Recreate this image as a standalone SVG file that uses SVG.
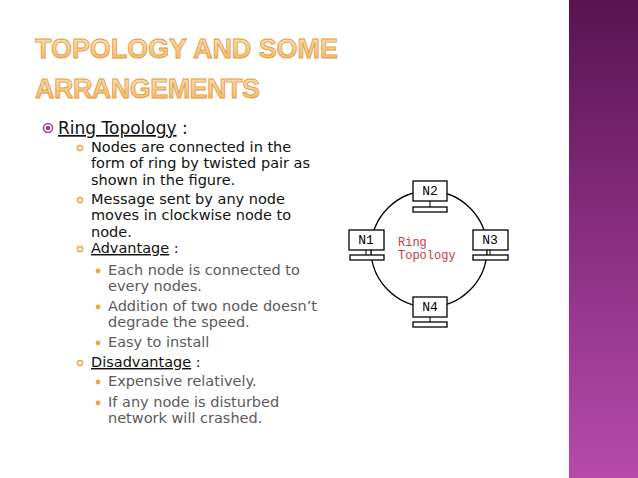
<svg xmlns="http://www.w3.org/2000/svg" width="638" height="478" viewBox="0 0 638 478">
<defs>
<linearGradient id="side" x1="0" y1="0" x2="0" y2="1"><stop offset="0" stop-color="#581450"/><stop offset="0.5" stop-color="#8a2e82"/><stop offset="1" stop-color="#b64aac"/></linearGradient>
<linearGradient id="tt" x1="0" y1="0" x2="0" y2="1"><stop offset="0" stop-color="#fbe3c0"/><stop offset="1" stop-color="#f2b25a"/></linearGradient>
<style>
.t{font-family:"Liberation Sans",Arial,sans-serif;font-size:27px;font-weight:bold;fill:url(#tt);stroke:#e29a3c;stroke-width:0.8}
.l1{font-family:"DejaVu Sans",sans-serif;font-size:14.5px;fill:#111}
.l2{font-family:"DejaVu Sans",sans-serif;font-size:14.5px;fill:#5a5a5a}
.b1{fill:none;stroke:#e8a848;stroke-width:1.5}
.b2{fill:#e8a848}
.box{fill:#fff;stroke:#000;stroke-width:1.3}
.nl{font-family:"Liberation Mono","Courier New",monospace;font-size:13px;fill:#000;text-anchor:middle}
</style>
</defs>
<rect width="638" height="478" fill="#fff"/>
<rect x="569" y="0" width="69" height="478" fill="url(#side)"/>
<text class="t" x="35" y="58" textLength="303">TOPOLOGY AND SOME</text>
<text class="t" x="35" y="98" textLength="225">ARRANGEMENTS</text>
<circle cx="48" cy="128" r="4.5" fill="none" stroke="#a03c98" stroke-width="1.5"/><circle cx="48" cy="128" r="2.2" fill="#a03c98"/>
<text x="58" y="134" style="font-family:'DejaVu Sans',sans-serif;font-size:17px;fill:#111"><tspan text-decoration="underline">Ring Topology</tspan> :</text>
<circle class="b1" cx="80" cy="148" r="2.6"/>
<text class="l1" x="91" y="152">Nodes are connected in the</text>
<text class="l1" x="91" y="168">form of ring by twisted pair as</text>
<text class="l1" x="91" y="185">shown in the figure.</text>
<circle class="b1" cx="80" cy="200" r="2.6"/>
<text class="l1" x="91" y="204">Message sent by any node</text>
<text class="l1" x="91" y="220">moves in clockwise node to</text>
<text class="l1" x="91" y="237">node.</text>
<circle class="b1" cx="80" cy="249" r="2.6"/>
<text class="l1" x="91" y="253"><tspan text-decoration="underline">Advantage</tspan> :</text>
<circle class="b2" cx="98" cy="271" r="2.4"/>
<text class="l2" x="108" y="275">Each node is connected to</text>
<text class="l2" x="108" y="291">every nodes.</text>
<circle class="b2" cx="98" cy="307" r="2.4"/>
<text class="l2" x="108" y="311">Addition of two node doesn’t</text>
<text class="l2" x="108" y="327">degrade the speed.</text>
<circle class="b2" cx="98" cy="343" r="2.4"/>
<text class="l2" x="108" y="347">Easy to install</text>
<circle class="b1" cx="80" cy="363" r="2.6"/>
<text class="l1" x="91" y="367"><tspan text-decoration="underline">Disadvantage</tspan> :</text>
<circle class="b2" cx="98" cy="382" r="2.4"/>
<text class="l2" x="108" y="386">Expensive relatively.</text>
<circle class="b2" cx="98" cy="403" r="2.4"/>
<text class="l2" x="108" y="407">If any node is disturbed</text>
<text class="l2" x="108" y="423">network will crashed.</text>
<g id="connectors"><circle cx="429" cy="249" r="58" fill="none" stroke="#000" stroke-width="1.3"/></g>
<g id="N2"><rect class="box" x="413" y="181" width="34" height="20"/><line x1="430" y1="201" x2="430" y2="207" stroke="#000"/><rect class="box" x="413" y="207" width="34" height="5"/><text class="nl" x="430" y="195">N2</text></g>
<g id="N1"><rect class="box" x="349" y="230" width="35" height="20"/><line x1="366" y1="250" x2="366" y2="255" stroke="#000"/><rect class="box" x="350" y="255" width="34" height="5"/><text class="nl" x="366" y="244">N1</text></g>
<g id="N3"><rect class="box" x="473" y="230" width="35" height="20"/><line x1="490" y1="250" x2="490" y2="255" stroke="#000"/><rect class="box" x="473" y="255" width="35" height="5"/><text class="nl" x="490" y="244">N3</text></g>
<g id="N4"><rect class="box" x="413" y="297" width="34" height="20"/><line x1="430" y1="317" x2="430" y2="322" stroke="#000"/><rect class="box" x="413" y="322" width="34" height="5"/><text class="nl" x="430" y="311">N4</text></g>
<g id="label"><text x="398" y="246" style="font-family:'Liberation Mono',monospace;font-size:12px;fill:#c8383c">Ring</text><text x="398" y="259" style="font-family:'Liberation Mono',monospace;font-size:12px;fill:#c8383c">Topology</text></g>
</svg>
